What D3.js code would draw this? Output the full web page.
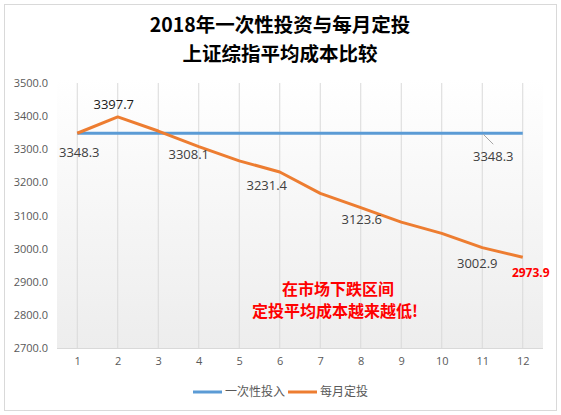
<!DOCTYPE html>
<html>
<head>
<meta charset="utf-8">
<script src="https://cdn.jsdelivr.net/npm/d3@7"></script>
<style>
    body { margin: 0; background: #fff; }
    svg { display: block; }
    .axis text { font-family: "Open Sans", sans-serif; font-size: 11px; fill: #595959; }
</style>
</head>
<body>
<div id="chart"></div>
<script>

var months = [1, 2, 3, 4, 5, 6, 7, 8, 9, 10, 11, 12];
var lumpSum = [3348.3, 3348.3, 3348.3, 3348.3, 3348.3, 3348.3, 3348.3, 3348.3, 3348.3, 3348.3, 3348.3, 3348.3];
var monthly = [3348.3, 3397.7, 3355.0, 3308.1, 3265.0, 3231.4, 3167.0, 3123.6, 3080.0, 3046.0, 3002.9, 2973.9];
var yTicks = [2700, 2800, 2900, 3000, 3100, 3200, 3300, 3400, 3500];
var seriesNames = ["一次性投入", "每月定投"];
var titleLines = ["2018年一次性投资与每月定投", "上证综指平均成本比较"];
var noteLines = ["在市场下跌区间", "定投平均成本越来越低!"];

// which points get a value label (index into months)
var monthlyLabelIdx = [0, 1, 3, 5, 7, 10, 11];
var lumpLabelIdx = [10];

const width = 561, height = 415;
const plotLeft = 57, plotRight = 543, plotTop = 78, plotBottom = 348;

const svg = d3.select("#chart")
    .append("svg")
    .attr("width", width)
    .attr("height", height);

// outer border
svg.append("rect")
    .attr("x", 4.5).attr("y", 4.5)
    .attr("width", 552).attr("height", 406)
    .attr("fill", "#fff")
    .attr("stroke", "#d9d9d9");

// plot background gradient
var grad = svg.append("defs").append("linearGradient")
    .attr("id", "bg")
    .attr("x1", 0).attr("y1", 0).attr("x2", 0).attr("y2", 1);
grad.append("stop").attr("offset", "0%").attr("stop-color", "#ffffff");
grad.append("stop").attr("offset", "100%").attr("stop-color", "#ededed");

svg.append("rect")
    .attr("x", plotLeft).attr("y", plotTop)
    .attr("width", plotRight - plotLeft).attr("height", plotBottom - plotTop)
    .attr("fill", "url(#bg)");

const xScale = d3.scalePoint()
    .domain(months)
    .range([plotLeft, plotRight])
    .padding(0.5);

const yScale = d3.scaleLinear()
    .domain([2700, 3500])
    .range([plotBottom, 83]);

/* title */
svg.selectAll(".title")
    .data(titleLines)
    .enter()
    .append("text")
    .attr("class", "title")
    .attr("x", 280)
    .attr("y", function (d, i) { return 32 + i * 29; })
    .attr("text-anchor", "middle")
    .style("font-family", "'Noto Sans CJK SC', sans-serif")
    .style("font-weight", "bold")
    .style("font-size", "19.5px")
    .style("fill", "#000")
    .text(function (d) { return d; });

/* vertical gridlines */
svg.append("g")
    .selectAll("line")
    .data(months)
    .enter()
    .append("line")
    .attr("x1", function (d) { return xScale(d); })
    .attr("x2", function (d) { return xScale(d); })
    .attr("y1", yScale(3500))
    .attr("y2", plotBottom)
    .attr("stroke", "#d9d9d9")
    .attr("stroke-width", 1);

/* axes */
var yAxis = svg.append("g")
    .attr("class", "y axis")
    .attr("transform", "translate(" + plotLeft + ",0)")
    .call(d3.axisLeft(yScale)
        .tickValues(yTicks)
        .tickSize(0)
        .tickPadding(9)
        .tickFormat(d3.format(".1f")));
yAxis.select(".domain").remove();

var xAxis = svg.append("g")
    .attr("class", "x axis")
    .attr("transform", "translate(0," + plotBottom + ")")
    .call(d3.axisBottom(xScale).tickSize(0).tickPadding(9));
xAxis.select(".domain")
    .attr("d", "M" + plotLeft + ",0.5H" + plotRight)
    .attr("stroke", "#d9d9d9");

/* lines */
var line = d3.line()
    .x(function (d, i) { return xScale(months[i]); })
    .y(function (d) { return yScale(d); });

svg.append("path")
    .attr("d", line(lumpSum))
    .attr("fill", "none")
    .attr("stroke", "#5b9bd5")
    .attr("stroke-width", 3);

svg.append("path")
    .attr("d", line(monthly))
    .attr("fill", "none")
    .attr("stroke", "#ed7d31")
    .attr("stroke-width", 3)
    .attr("stroke-linejoin", "round");

/* value labels (offsets relative to the point) */
var monthlyOffsets = [[2, 24], [-4, -8], [0, 0], [-10, 12], [0, 0], [-13, 18], [0, 0], [1, 16], [0, 0], [0, 0], [-5, 20], [8, 20]];

svg.selectAll(".lbl-monthly")
    .data(monthlyLabelIdx)
    .enter()
    .append("text")
    .attr("class", "lbl-monthly")
    .attr("x", function (i) { return xScale(months[i]) + monthlyOffsets[i][0]; })
    .attr("y", function (i) { return yScale(monthly[i]) + monthlyOffsets[i][1]; })
    .attr("text-anchor", "middle")
    .style("font-family", "'Open Sans', sans-serif")
    .style("font-size", function (i) { return i === 11 ? "12px" : "13px"; })
    .style("font-weight", function (i) { return i === 11 ? "bold" : "normal"; })
    .style("fill", function (i) {
        if (i === 11) return "#ff0000";
        if (i === 1) return "#1a1a1a";
        return "#404040";
    })
    .text(function (i) { return d3.format(".1f")(monthly[i]); });

// lump-sum label with leader line
lumpLabelIdx.forEach(function (i) {
    var px = xScale(months[i]), py = yScale(lumpSum[i]);
    svg.append("line")
        .attr("x1", px + 1).attr("y1", py + 1)
        .attr("x2", px + 11).attr("y2", py + 11)
        .attr("stroke", "#a6a6a6");
    svg.append("text")
        .attr("x", px + 11)
        .attr("y", py + 28)
        .attr("text-anchor", "middle")
        .style("font-family", "'Open Sans', sans-serif")
        .style("font-size", "13px")
        .style("fill", "#404040")
        .text(d3.format(".1f")(lumpSum[i]));
});

/* annotation */
svg.selectAll(".note")
    .data(noteLines)
    .enter()
    .append("text")
    .attr("class", "note")
    .attr("x", function (d, i) { return i === 0 ? 338 : 335; })
    .attr("y", function (d, i) { return 295 + i * 22; })
    .attr("text-anchor", "middle")
    .style("font-family", "'Noto Sans CJK SC', sans-serif")
    .style("font-weight", "bold")
    .style("font-size", "16px")
    .style("fill", "#ff0000")
    .text(function (d) { return d; });

/* legend */
var legendColors = ["#5b9bd5", "#ed7d31"];
var legendX = [193, 288];
var legend = svg.selectAll(".legend")
    .data(seriesNames)
    .enter()
    .append("g")
    .attr("class", "legend")
    .attr("transform", function (d, i) { return "translate(" + legendX[i] + ",392)"; });

legend.append("line")
    .attr("x1", 0).attr("x2", 29)
    .attr("y1", 0).attr("y2", 0)
    .attr("stroke", function (d, i) { return legendColors[i]; })
    .attr("stroke-width", 3);

legend.append("text")
    .attr("x", 32)
    .attr("y", 4)
    .style("font-family", "'Noto Sans CJK SC', sans-serif")
    .style("font-size", "12px")
    .style("fill", "#595959")
    .text(function (d) { return d; });

</script>
</body>
</html>
